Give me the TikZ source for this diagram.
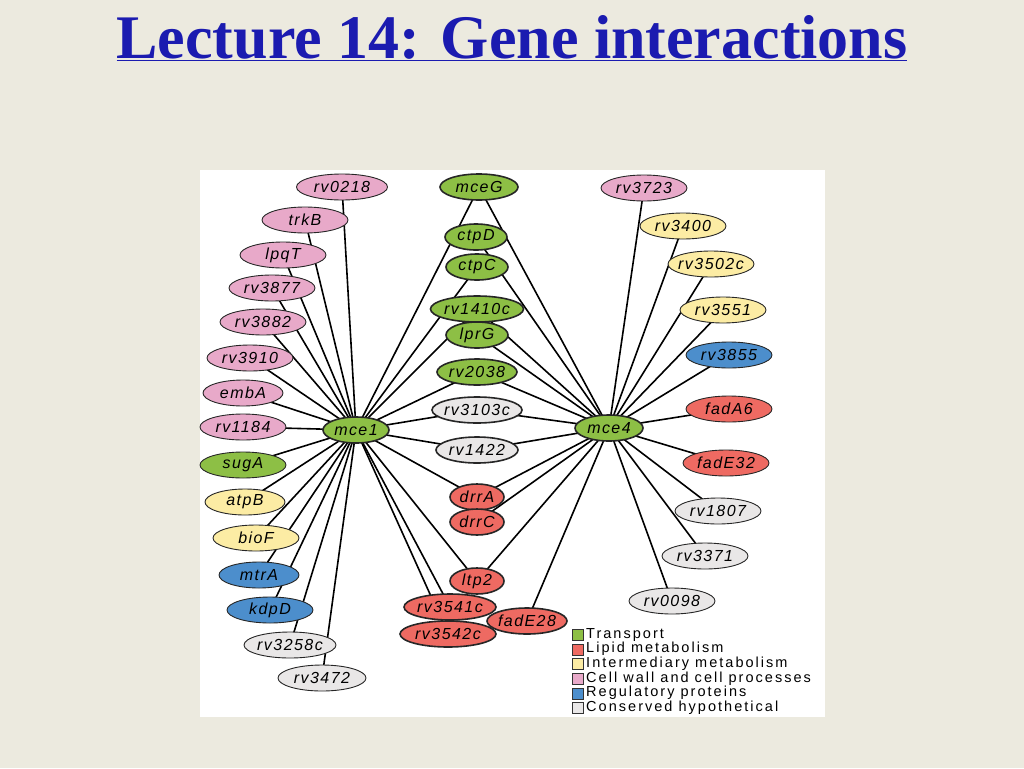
\documentclass[tikz,border=0pt]{standalone}
\usepackage{fontspec}
\setmainfont{Liberation Serif}
\newfontfamily\gfont{Liberation Sans}[LetterSpace=9]
\newfontfamily\lfont{Liberation Sans}[LetterSpace=14]
\usetikzlibrary{shapes.geometric}
\pgfdeclarelayer{bgl}\pgfdeclarelayer{edges}
\pgfsetlayers{bgl,edges,main}
\definecolor{bg}{HTML}{ECEADF}
\definecolor{cg}{HTML}{8DBF45}
\definecolor{cr}{HTML}{EE6A62}
\definecolor{cy}{HTML}{FCECA4}
\definecolor{cp}{HTML}{E8A9C9}
\definecolor{cb}{HTML}{4C8ECC}
\definecolor{cc}{HTML}{E9E7E7}
\definecolor{tblue}{HTML}{1B1BB0}
\tikzset{
 g/.style={ellipse,draw=black!85,line width=1.6pt,inner xsep=-14pt,inner ysep=0pt,minimum height=26pt,minimum width=86pt,font=\gfont\itshape\fontsize{16}{16}\selectfont},
 G/.style={g,fill=cg},R/.style={g,fill=cr},Y/.style={g,fill=cy,line width=0.9pt},
 P/.style={g,fill=cp,line width=0.9pt},B/.style={g,fill=cb,line width=0.9pt},C/.style={g,fill=cc,line width=0.9pt},
 w/.style={minimum width=#1pt},
 e/.style={line width=1.6pt},
 lg/.style={draw=black!80,line width=0.9pt,minimum size=11pt,inner sep=0pt},
 lt/.style={anchor=west,font=\lfont\fontsize{14.5}{14.5}\selectfont,inner sep=1pt}
}
\begin{document}
\begin{tikzpicture}[x=1pt,y=-1pt]
\begin{pgfonlayer}{bgl}
\fill[bg] (0,0) rectangle (1024,768);
\fill[white] (200,170) rectangle (825,717);
\end{pgfonlayer}
\useasboundingbox (0,0) rectangle (1024,768);
\node[font=\bfseries\fontsize{62}{62}\selectfont,text=tblue] (title) at (512,38) {\underline{Lecture 14: Gene interactions}};
% hubs
\node[G,w=66] (mce1) at (356,430) {mce1};
\node[G,w=68] (mce4) at (609,428) {mce4};
% left
\node[P,w=91] (a1) at (342,187) {rv0218};
\node[P] (a2) at (305,220) {trkB};
\node[P] (a3) at (283,255) {lpqT};
\node[P] (a4) at (272,288) {rv3877};
\node[P] (a5) at (263,322) {rv3882};
\node[P] (a6) at (250,358) {rv3910};
\node[P,w=80] (a7) at (243,393) {embA};
\node[P] (a8) at (243,427) {rv1184};
\node[G,line width=0.9pt] (a9) at (243,465) {sugA};
\node[Y,w=80] (a10) at (245,502) {atpB};
\node[Y] (a11) at (256,538) {bioF};
\node[B,w=80] (a12) at (259,575) {mtrA};
\node[B] (a13) at (270,610) {kdpD};
\node[C,w=92] (a14) at (290,645) {rv3258c};
\node[C,w=88] (a15) at (322,678) {rv3472};
% center
\node[G,w=78] (mceG) at (479,187) {mceG};
\node[G,w=62] (ctpD) at (476,237) {ctpD};
\node[G,w=62] (ctpC) at (477,267) {ctpC};
\node[G,w=93] (r1410) at (477,309) {rv1410c};
\node[G,w=62] (lprG) at (477,335) {lprG};
\node[G,w=80] (r2038) at (477,372) {rv2038};
\node[C,w=90,line width=1.6pt] (r3103) at (477,410) {rv3103c};
\node[C,w=82,line width=1.6pt] (r1422) at (477,450) {rv1422};
\node[R,w=54] (drrA) at (477,497) {drrA};
\node[R,w=54] (drrC) at (477,522) {drrC};
\node[R,w=54] (ltp2) at (477,581) {ltp2};
\node[R,w=92] (r3541) at (450,607) {rv3541c};
\node[R,w=96] (r3542) at (448,634) {rv3542c};
\node[R,w=80] (fadE28) at (527,621) {fadE28};
% right
\node[P] (b1) at (644,188) {rv3723};
\node[Y] (b2) at (683,226) {rv3400};
\node[Y] (b3) at (711,264) {rv3502c};
\node[Y] (b4) at (723,310) {rv3551};
\node[B] (b5) at (729,355) {rv3855};
\node[R,line width=0.9pt] (b6) at (729,409) {fadA6};
\node[R,line width=0.9pt] (b7) at (726,463) {fadE32};
\node[C] (b8) at (718,511) {rv1807};
\node[C] (b9) at (705,556) {rv3371};
\node[C] (b10) at (672,601) {rv0098};
% edges
\begin{pgfonlayer}{edges}
\foreach \n in {a1,a2,a3,a4,a5,a6,a7,a8,a9,a10,a11,a12,a13,a14,a15,mceG,ctpC,r1410,r2038,r3103,r1422,drrA,ltp2,r3541,r3542}
  \draw[e] (mce1.center) -- (\n.center);
\foreach \n in {b1,b2,b3,b4,b5,b6,b7,b8,b9,b10,mceG,ctpD,r1410,lprG,r2038,r3103,r1422,drrA,drrC,ltp2,fadE28}
  \draw[e] (mce4.center) -- (\n.center);
\end{pgfonlayer}
% legend
\foreach \c/\t [count=\i] in {cg/Transport,cr/Lipid metabolism,cy/Intermediary metabolism,cp/Cell wall and cell processes,cb/Regulatory proteins,cc/Conserved hypothetical}{
  \node[lg,fill=\c] (s\i) at (578,620.5+14.6*\i) {};
  \node[lt] (t\i) at (585,620+14.6*\i) {\t};
}
\end{tikzpicture}
\end{document}
